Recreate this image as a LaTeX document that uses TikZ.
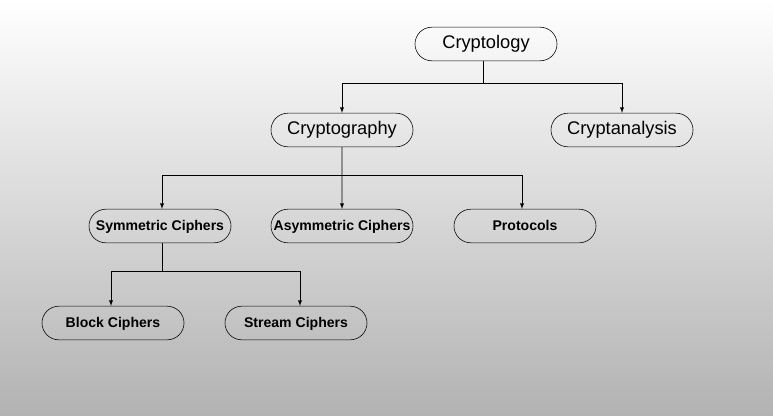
\documentclass[tikz,border=0pt]{standalone}
\usepackage{fontspec}
\setmainfont{Liberation Sans}
\usetikzlibrary{shapes.misc}
\begin{document}
\begin{tikzpicture}[x=0.025cm, y=-0.025cm,
	box/.style={draw, rounded rectangle, minimum width=3.55cm, minimum height=0.84cm, inner sep=0pt, text height=1.6ex, text depth=0.45ex},
	top/.style={box, font=\fontsize{13}{15}\selectfont},
	low/.style={box, font=\fontsize{10}{12}\selectfont\bfseries},
	link/.style={-latex}]
	\shade[top color=white, bottom color=black!30] (0,0) rectangle (773,415);

	\node[top] (crypto) at (486, 44) {Cryptology};
	\node[top] (graphy) at (342,130) {Cryptography};
	\node[top] (anal) at (622,130) {Cryptanalysis};

	\node[low] (sym) at (160,226) {Symmetric Ciphers};
	\node[low] (asym) at (342,226) {Asymmetric Ciphers};
	\node[low] (prot) at (525,226) {Protocols};

	\node[low] (block) at (113,323) {Block Ciphers};
	\node[low] (stream) at (296,323) {Stream Ciphers};

	\coordinate (j1) at (483, 83);
	\coordinate (j2) at (342,175);
	\coordinate (j3) at (162,271);

	\draw (crypto.south -| j1) -- (j1);
	\draw[link] (j1) -| (graphy);
	\draw[link] (j1) -| (anal);

	\draw (graphy) -- (j2);
	\draw[link] (j2) -| (sym.north -| j3);
	\draw[link] (j2) -- (asym);
	\draw[link] (j2) -| (prot.north -| 522,0);

	\draw (sym.south -| j3) -- (j3);
	\draw[link] (j3) -| (block.north -| 111,0);
	\draw[link] (j3) -| (stream.north -| 300,0);
\end{tikzpicture}
\end{document}
